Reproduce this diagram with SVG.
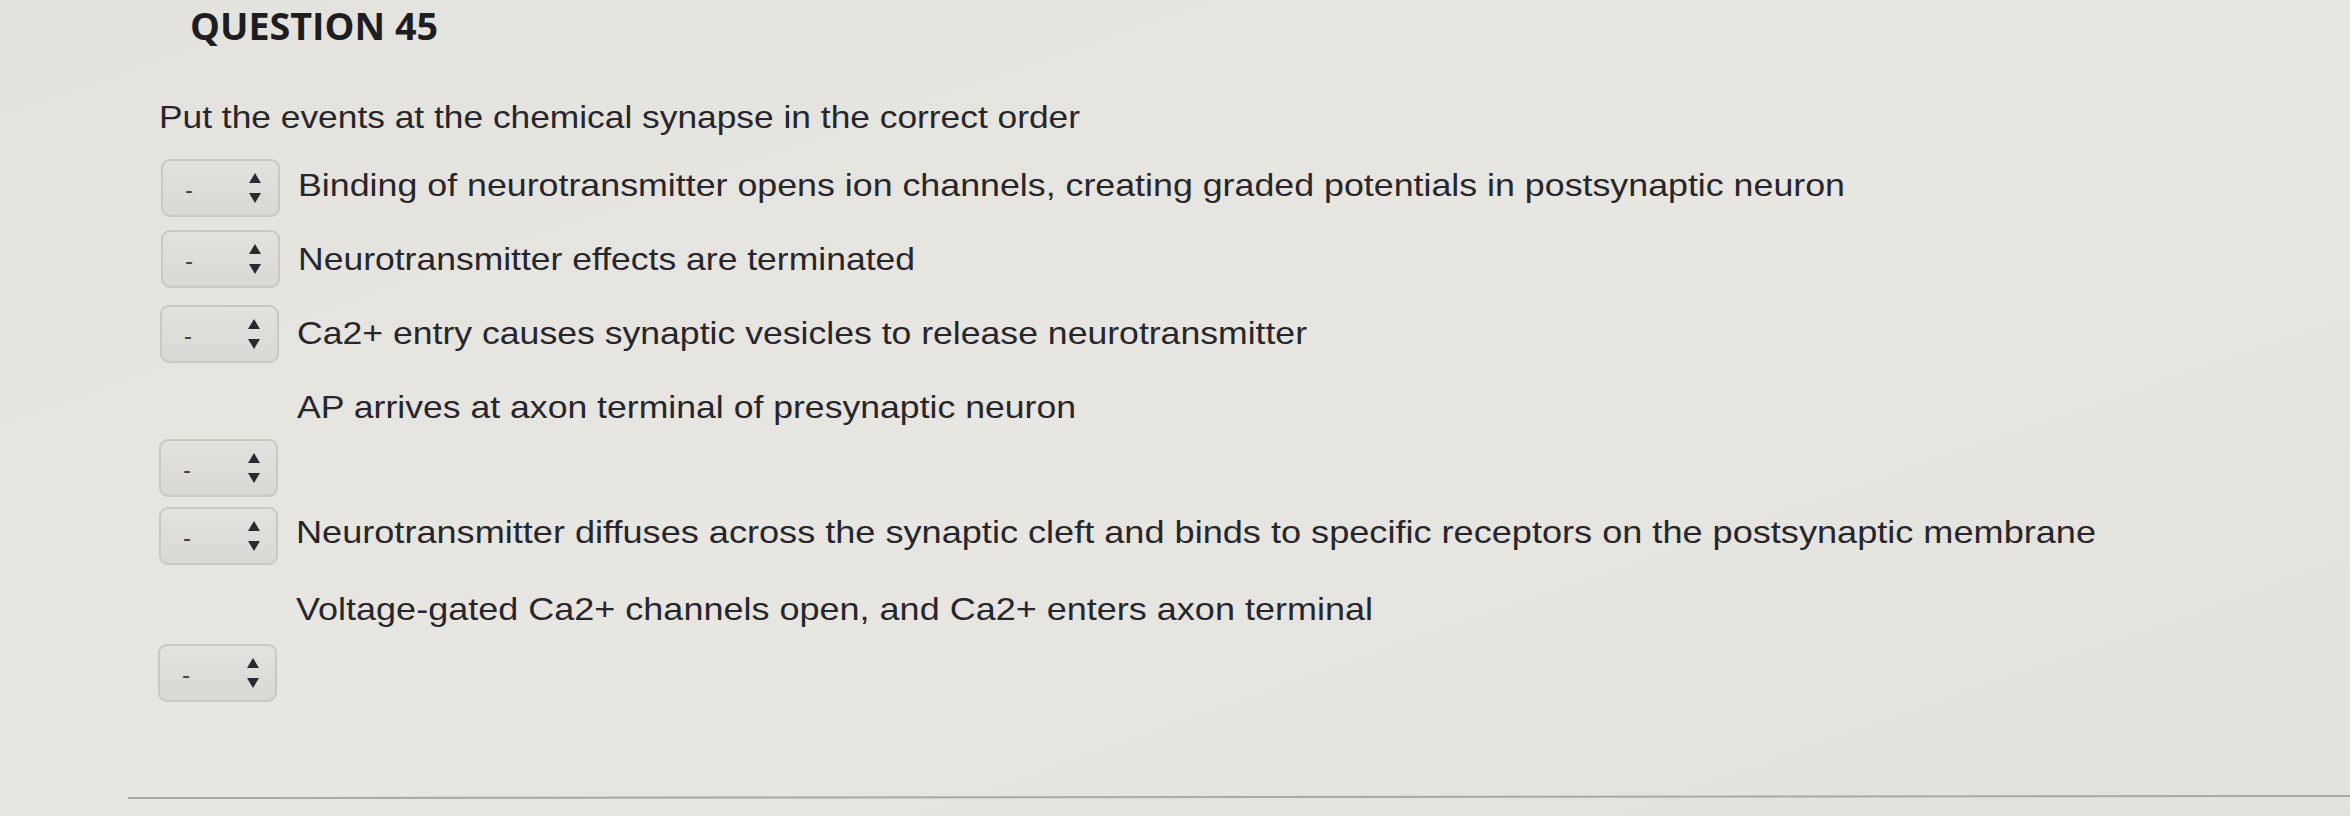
<svg xmlns="http://www.w3.org/2000/svg" width="2350" height="816" viewBox="0 0 2350 816">
<defs>
<linearGradient id="bg" x1="0" y1="0" x2="1" y2="1">
<stop offset="0" stop-color="#e4e2dc"/><stop offset="0.5" stop-color="#e8e6e1"/><stop offset="1" stop-color="#e3e1dc"/>
</linearGradient>
<linearGradient id="box" x1="0" y1="0" x2="0" y2="1">
<stop offset="0" stop-color="#e3e2de"/><stop offset="1" stop-color="#d9d8d4"/>
</linearGradient>
</defs>
<style>
.t{font-family:"Liberation Sans",Arial,sans-serif;font-size:32px;fill:#26262c}
.b{fill:url(#box);stroke:#c9c8c4;stroke-width:2}
.d{font-family:"Liberation Sans",Arial,sans-serif;font-size:24px;fill:#444}
.a{fill:#2a2a30}
</style>
<rect width="2350" height="816" fill="url(#bg)"/>
<text x="190" y="40" font-family="'Open Sans',sans-serif" font-weight="bold" font-size="38" fill="#1e1e22" textLength="248" lengthAdjust="spacingAndGlyphs">QUESTION 45</text>
<text class="t" x="159" y="128" textLength="921" lengthAdjust="spacingAndGlyphs">Put the events at the chemical synapse in the correct order</text>
<g id="sel1"><rect class="b" x="162" y="160" width="117" height="56" rx="8"/><text class="d" x="185" y="198">-</text><path class="a" d="M249 183l6-10 6 10zM249 193l6 10 6-10z"/></g>
<g id="sel2"><rect class="b" x="162" y="231" width="117" height="56" rx="8"/><text class="d" x="185" y="269">-</text><path class="a" d="M249 254l6-10 6 10zM249 264l6 10 6-10z"/></g>
<g id="sel3"><rect class="b" x="161" y="306" width="117" height="56" rx="8"/><text class="d" x="184" y="344">-</text><path class="a" d="M248 329l6-10 6 10zM248 339l6 10 6-10z"/></g>
<g id="sel4"><rect class="b" x="160" y="440" width="117" height="56" rx="8"/><text class="d" x="183" y="478">-</text><path class="a" d="M248 463l6-10 6 10zM248 473l6 10 6-10z"/></g>
<g id="sel5"><rect class="b" x="160" y="508" width="117" height="56" rx="8"/><text class="d" x="183" y="546">-</text><path class="a" d="M248 531l6-10 6 10zM248 541l6 10 6-10z"/></g>
<g id="sel6"><rect class="b" x="159" y="645" width="117" height="56" rx="8"/><text class="d" x="182" y="683">-</text><path class="a" d="M247 668l6-10 6 10zM247 678l6 10 6-10z"/></g>
<text class="t" x="298" y="196" textLength="1547" lengthAdjust="spacingAndGlyphs">Binding of neurotransmitter opens ion channels, creating graded potentials in postsynaptic neuron</text>
<text class="t" x="298" y="270" textLength="617" lengthAdjust="spacingAndGlyphs">Neurotransmitter effects are terminated</text>
<text class="t" x="297" y="344" textLength="1010" lengthAdjust="spacingAndGlyphs">Ca2+ entry causes synaptic vesicles to release neurotransmitter</text>
<text class="t" x="297" y="418" textLength="779" lengthAdjust="spacingAndGlyphs">AP arrives at axon terminal of presynaptic neuron</text>
<text class="t" x="296" y="543" textLength="1800" lengthAdjust="spacingAndGlyphs">Neurotransmitter diffuses across the synaptic cleft and binds to specific receptors on the postsynaptic membrane</text>
<text class="t" x="296" y="620" textLength="1077" lengthAdjust="spacingAndGlyphs">Voltage-gated Ca2+ channels open, and Ca2+  enters axon terminal</text>
<line x1="128" y1="798" x2="2350" y2="796" stroke="#a9a8a4" stroke-width="2"/>
</svg>
